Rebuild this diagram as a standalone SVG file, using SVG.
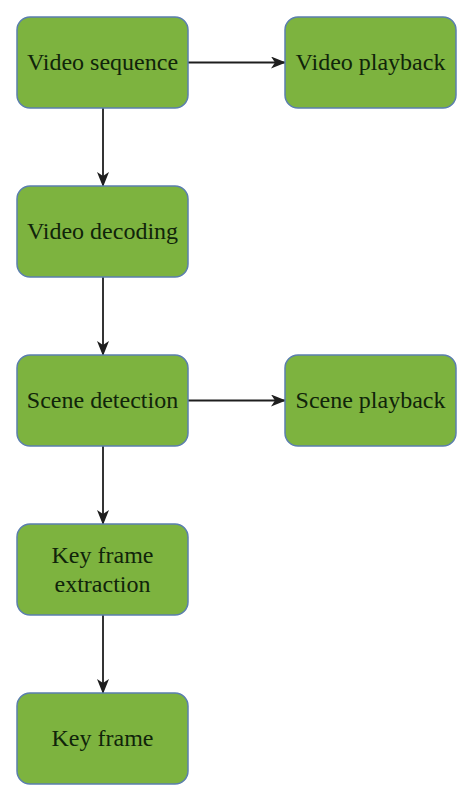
<svg xmlns="http://www.w3.org/2000/svg" width="474" height="801" viewBox="0 0 474 801">
<style>
.box{fill:#7db33f;stroke:#5b7fae;stroke-width:1.5}
.lbl{font-family:"Liberation Serif",serif;font-size:24px;fill:#10240a;text-anchor:middle}
.con{stroke:#1e1e1e;stroke-width:1.8;fill:none;marker-end:url(#ah)}
</style>
<defs>
<marker id="ah" markerWidth="15" markerHeight="12" refX="14" refY="6" orient="auto" markerUnits="userSpaceOnUse">
<path d="M0,0 L15,6 L0,12 L4,6 Z" fill="#1e1e1e"/>
</marker>
</defs>
<rect width="474" height="801" fill="#fff"/>
<g id="connectors">
<path class="con" d="M188,62.5 H285"/>
<path class="con" d="M103,108 V186"/>
<path class="con" d="M103,277 V355"/>
<path class="con" d="M188,400.5 H285"/>
<path class="con" d="M103,446 V524"/>
<path class="con" d="M103,615 V693"/>
</g>
<g id="video-sequence"><rect class="box" x="17" y="17" width="171" height="91" rx="13"/><text class="lbl" x="102.5" y="70">Video sequence</text></g>
<g id="video-playback"><rect class="box" x="285" y="17" width="171" height="91" rx="13"/><text class="lbl" x="370.5" y="70">Video playback</text></g>
<g id="video-decoding"><rect class="box" x="17" y="186" width="171" height="91" rx="13"/><text class="lbl" x="102.5" y="239">Video decoding</text></g>
<g id="scene-detection"><rect class="box" x="17" y="355" width="171" height="91" rx="13"/><text class="lbl" x="102.5" y="408">Scene detection</text></g>
<g id="scene-playback"><rect class="box" x="285" y="355" width="171" height="91" rx="13"/><text class="lbl" x="370.5" y="408">Scene playback</text></g>
<g id="key-frame-extraction"><rect class="box" x="17" y="524" width="171" height="91" rx="13"/><text class="lbl" x="102.5" y="563">Key frame</text><text class="lbl" x="102.5" y="592">extraction</text></g>
<g id="key-frame"><rect class="box" x="17" y="693" width="171" height="91" rx="13"/><text class="lbl" x="102.5" y="746">Key frame</text></g>
</svg>
